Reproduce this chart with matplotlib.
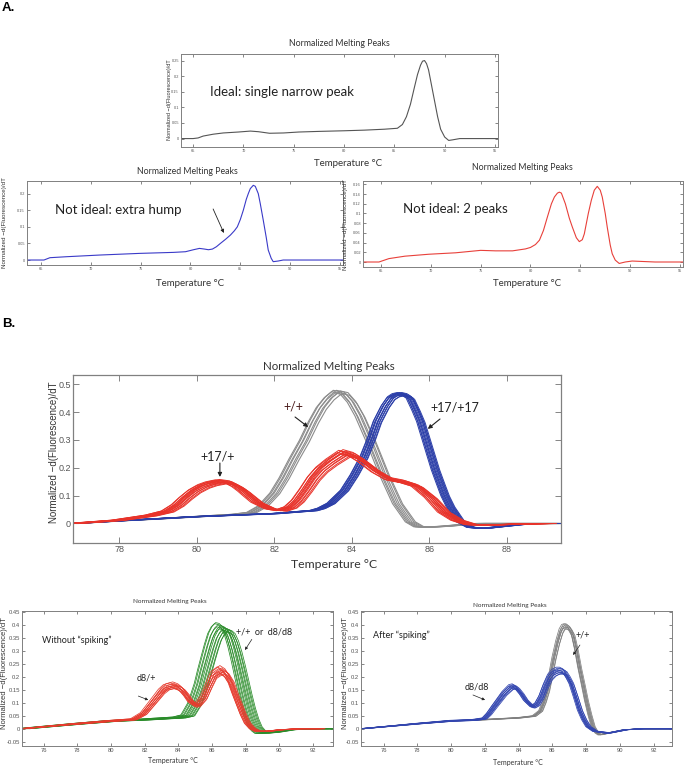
import matplotlib
matplotlib.use('Agg')
import matplotlib.pyplot as plt
import numpy as np

# ---- panel A data (single curves) ----
a1_temp = [63.8, 65.0, 65.5, 66.0, 67.0, 68.0, 69.5, 70.7, 71.5, 72.6, 74.0, 75.5, 77.5, 80.0, 82.0, 84.0,
           85.3, 85.8, 86.2, 86.6, 87.0, 87.3, 87.6, 87.8, 88.0, 88.2, 88.4, 88.7, 89.0, 89.3, 89.6, 90.0,
           90.4, 90.8, 91.5, 93.0, 95.3]
a1_val = [0.0, 0.0, 0.002, 0.008, 0.014, 0.018, 0.021, 0.024, 0.022, 0.017, 0.018, 0.021, 0.023, 0.025, 0.027, 0.03,
          0.033, 0.045, 0.07, 0.11, 0.165, 0.205, 0.235, 0.248, 0.25, 0.24, 0.22, 0.17, 0.12, 0.07, 0.03, 0.005,
          -0.006, -0.004, 0.0, 0.0, 0.0]

a2_temp = [63.6, 65.3, 65.9, 67.6, 70.9, 74.9, 78.3, 79.5, 80.3, 80.9, 81.4, 81.8, 82.2, 82.6, 83.0, 83.5, 84.0,
           84.4, 84.7, 85.0, 85.3, 85.6, 85.8, 86.0, 86.3, 86.5, 86.8, 87.0, 87.3, 87.6, 87.8, 88.1, 88.3, 88.8,
           89.3, 90.0, 92.0, 95.3]
a2_val = [0.0, 0.0, 0.007, 0.01, 0.015, 0.02, 0.023, 0.025, 0.031, 0.035, 0.033, 0.031, 0.033, 0.04, 0.05, 0.062,
          0.075, 0.088, 0.1, 0.122, 0.15, 0.183, 0.2, 0.215, 0.225, 0.222, 0.2, 0.17, 0.12, 0.068, 0.03, 0.005,
          -0.005, -0.003, 0.0, 0.0, 0.0, 0.0]

a3_temp = [63.2, 64.8, 65.8, 67.4, 69.8, 72.5, 75.0, 76.5, 78.2, 79.5, 80.0, 80.5, 80.9, 81.3, 81.7, 82.1, 82.4,
           82.7, 82.9, 83.1, 83.5, 83.9, 84.2, 84.6, 84.9, 85.2, 85.4, 85.8, 86.1, 86.4, 86.7, 87.0, 87.2, 87.5,
           87.7, 88.0, 88.2, 88.5, 88.9, 89.5, 90.2, 92.5, 95.3]
a3_val = [0.0, 0.0, 0.007, 0.012, 0.016, 0.019, 0.024, 0.023, 0.023, 0.027, 0.03, 0.036, 0.045, 0.065, 0.093, 0.12,
          0.134, 0.142, 0.144, 0.142, 0.12, 0.09, 0.072, 0.05, 0.042, 0.046, 0.058, 0.1, 0.127, 0.148, 0.156, 0.148,
          0.134, 0.1, 0.072, 0.035, 0.017, 0.004, -0.003, 0.0, 0.002, 0.0, 0.0]

# ---- panel B main (replicate groups: base curve + per-replicate peak shift / height factor) ----
b_gray_temp = [76.8, 78, 79, 80, 81, 81.4, 81.7, 82.0, 82.24, 82.5, 82.76, 83.0, 83.2, 83.4, 83.6, 83.8, 84.0,
               84.2, 84.48, 84.82, 85.17, 85.5, 85.72, 86.0, 86.4, 86.88, 87.3, 89.4]
b_gray_val = [0.0, 0.01, 0.017, 0.025, 0.033, 0.04, 0.064, 0.11, 0.165, 0.235, 0.3, 0.37, 0.42, 0.455, 0.478, 0.472,
              0.44, 0.39, 0.3, 0.18, 0.072, 0.006, -0.012, -0.013, -0.01, -0.004, 0.0, 0.0]
b_gray_shift = [-0.12, -0.08, -0.04, 0.0, 0.05, 0.1, 0.14]
b_gray_scale = [0.99, 1.0, 0.98, 1.0, 0.985, 0.995, 0.975]

b_blue_temp = [76.8, 78, 80, 82, 83.0, 83.2, 83.45, 83.8, 84.05, 84.3, 84.5, 84.65, 84.85, 85.0, 85.12, 85.25,
               85.38, 85.5, 85.65, 85.77, 85.9, 86.03, 86.15, 86.28, 86.4, 86.54, 86.8, 87.06, 87.4, 87.92, 88.6, 89.4]
b_blue_val = [0.0, 0.01, 0.025, 0.036, 0.047, 0.055, 0.073, 0.12, 0.175, 0.24, 0.31, 0.37, 0.425, 0.455, 0.466, 0.47,
              0.466, 0.455, 0.41, 0.37, 0.31, 0.25, 0.195, 0.145, 0.1, 0.06, 0.006, -0.014, -0.018, -0.01, 0.0, 0.0]
b_blue_shift = [-0.1, -0.08, -0.06, -0.04, -0.02, 0.0, 0.02, 0.04, 0.06, 0.08, 0.1, 0.12]
b_blue_scale = [0.99, 1.0, 0.985, 0.995, 1.0, 0.98, 0.99, 1.0, 0.985, 0.99, 0.975, 0.98]

b_red_temp = [76.8, 77.94, 78.8, 79.23, 79.49, 79.7, 79.92, 80.15, 80.35, 80.6, 80.86, 81.05, 81.2, 81.38, 81.55,
              81.9, 82.15, 82.4, 82.59, 82.8, 83.0, 83.2, 83.45, 83.79, 84.05, 84.3, 84.65, 85.0, 85.34, 85.68,
              86.03, 86.37, 86.71, 87.06, 87.57, 88.26, 89.1]
b_red_val = [0.0, 0.012, 0.03, 0.045, 0.068, 0.095, 0.12, 0.138, 0.148, 0.155, 0.15, 0.136, 0.12, 0.098, 0.078,
             0.054, 0.048, 0.06, 0.084, 0.125, 0.168, 0.2, 0.228, 0.26, 0.25, 0.228, 0.19, 0.162, 0.153, 0.138,
             0.096, 0.042, 0.012, -0.004, -0.006, -0.002, 0.0]
b_red_shift = [-0.16, -0.13, -0.1, -0.07, -0.04, -0.02, 0.0, 0.02, 0.04, 0.06, 0.09, 0.12, 0.15, 0.18]
b_red_scale = [0.98, 1.01, 0.96, 1.0, 0.97, 1.02, 0.99, 0.95, 1.0, 0.97, 0.94, 0.96, 0.93, 0.92]

# ---- panel B lower left: without spiking ----
ll_red_temp = [74.7, 76, 78, 80, 81.33, 81.93, 82.3, 82.7, 83.0, 83.3, 83.7, 84.0, 84.2, 84.45, 84.7, 85.1, 85.5,
               85.8, 86.1, 86.5, 86.8, 87.1, 87.35, 87.6, 87.85, 88.1, 88.4, 88.7, 89.3, 90.1, 91.2, 92.5]
ll_red_val = [0.0, 0.008, 0.02, 0.031, 0.037, 0.06, 0.09, 0.123, 0.148, 0.165, 0.172, 0.165, 0.155, 0.135, 0.11,
              0.091, 0.123, 0.17, 0.213, 0.232, 0.22, 0.187, 0.14, 0.097, 0.055, 0.021, 0.0, -0.01, -0.01, -0.004,
              0.0, 0.0]
ll_red_shift = [-0.18, -0.14, -0.1, -0.06, -0.03, 0.0, 0.03, 0.06, 0.1, 0.14, 0.18, 0.22]
ll_red_scale = [1.03, 0.95, 1.0, 0.92, 1.05, 0.97, 0.9, 1.01, 0.94, 0.98, 0.91, 0.96]

ll_green_temp = [74.7, 76, 78, 80, 82, 84.0, 84.5, 84.9, 85.1, 85.3, 85.5, 85.7, 85.9, 86.1, 86.3, 86.5, 86.7,
                 86.9, 87.1, 87.3, 87.5, 87.7, 87.9, 88.1, 88.3, 88.5, 88.7, 88.9, 89.5, 90.5, 92.0, 93.2]
ll_green_val = [0.0, 0.008, 0.02, 0.031, 0.037, 0.045, 0.053, 0.098, 0.135, 0.175, 0.228, 0.277, 0.325, 0.367,
                0.392, 0.405, 0.402, 0.39, 0.36, 0.315, 0.26, 0.2, 0.14, 0.085, 0.04, 0.008, -0.008, -0.018,
                -0.015, -0.004, 0.0, 0.0]
ll_green_shift = [-0.35, -0.28, -0.21, -0.14, -0.07, 0.0, 0.07, 0.14, 0.21, 0.28, 0.35, 0.42, 0.48]
ll_green_scale = [1.0, 1.01, 0.97, 0.99, 0.95, 0.98, 0.97, 0.94, 0.96, 0.93, 0.95, 0.92, 0.94]

# ---- panel B lower right: after spiking ----
lr_gray_temp = [74.66, 76, 78, 80, 82, 84, 84.9, 85.29, 85.5, 85.7, 85.9, 86.08, 86.3, 86.5, 86.65, 86.8, 87.0,
                87.2, 87.4, 87.6, 87.8, 88.0, 88.2, 88.4, 88.6, 88.8, 89.3, 90.3, 91.3, 93.1]
lr_gray_val = [0.0, 0.008, 0.02, 0.031, 0.036, 0.043, 0.05, 0.07, 0.105, 0.149, 0.215, 0.277, 0.34, 0.385, 0.402,
               0.405, 0.395, 0.37, 0.31, 0.238, 0.175, 0.11, 0.055, 0.008, -0.015, -0.024, -0.017, -0.004, 0.0, 0.0]
lr_gray_shift = [-0.1, -0.06, -0.03, 0.0, 0.03, 0.06, 0.1, 0.14]
lr_gray_scale = [1.0, 0.98, 0.96, 1.0, 0.97, 0.99, 0.95, 0.97]

lr_blue_temp = [74.66, 76, 78, 80, 81.3, 81.93, 82.2, 82.5, 83.1, 83.5, 83.7, 83.9, 84.15, 84.4, 84.8, 85.05,
                85.3, 85.55, 85.8, 86.05, 86.3, 86.5, 86.7, 86.9, 87.1, 87.35, 87.6, 87.85, 88.1, 88.5, 89.3,
                90.3, 91.3, 93.1]
lr_blue_val = [0.0, 0.008, 0.02, 0.031, 0.034, 0.04, 0.058, 0.085, 0.137, 0.162, 0.165, 0.155, 0.135, 0.11, 0.085,
               0.095, 0.123, 0.165, 0.2, 0.218, 0.226, 0.226, 0.22, 0.2, 0.175, 0.125, 0.072, 0.035, 0.008, -0.01,
               -0.017, -0.004, 0.0, 0.0]
lr_blue_shift = [-0.12, -0.08, -0.05, -0.02, 0.0, 0.03, 0.06, 0.09, 0.12, 0.16, 0.2]
lr_blue_scale = [1.0, 1.05, 0.97, 1.03, 0.99, 0.95, 1.02, 0.96, 0.93, 1.0, 0.94]

TITLE = 'Normalized Melting Peaks'
XLAB = 'Temperature °C'
YLAB = 'Normalized −d(Fluorescence)/dT'
TXT = ['Lato', 'DejaVu Sans']
NARROW = ['Liberation Sans Narrow', 'Liberation Sans', 'DejaVu Sans']

W, H = 685, 766
fig = plt.figure(figsize=(W / 100, H / 100), dpi=100)


def box(l, t, r, b):
    return fig.add_axes([l / W, 1 - b / H, (r - l) / W, (b - t) / H])


def ftext(x, y, s, **kw):
    fig.text(x / W, 1 - y / H, s, **kw)


def style(ax, xlim, ylim, xticks, yticks, fs, tl, lw=0.7):
    ax.set_xlim(*xlim)
    ax.set_ylim(*ylim)
    ax.set_xticks(xticks)
    ax.set_yticks(yticks)
    ax.set_xticklabels(['{:g}'.format(v) for v in xticks])
    ax.set_yticklabels(['{:g}'.format(v) for v in yticks])
    ax.tick_params(direction='in', top=True, right=True, length=tl, width=0.5,
                   labelsize=fs, colors='#555555', pad=1.5)
    for lab in ax.get_xticklabels() + ax.get_yticklabels():
        lab.set_family(NARROW)
    for s in ax.spines.values():
        s.set_color('#808080')
        s.set_linewidth(lw)


def group(ax, temp, val, shifts, scales, color, lw):
    t = np.array(temp)
    v = np.array(val)
    for s, k in zip(shifts, scales):
        ax.plot(t + s, v * k, color=color, lw=lw)


def arrow(ax, start, end, lw=0.6, ms=5):
    ax.annotate('', xy=end, xytext=start, xycoords='axes fraction', textcoords='axes fraction',
                arrowprops=dict(arrowstyle='-|>', color='#222222', lw=lw, mutation_scale=ms,
                                shrinkA=0, shrinkB=0))


# panel labels
ftext(2, 8, 'A.', fontsize=9.5, fontweight='bold', family=['Liberation Sans', 'DejaVu Sans'], va='center')
ftext(2, 324, 'B.', fontsize=9.5, fontweight='bold', family=['Liberation Sans', 'DejaVu Sans'], va='center')

# ---------- A1 ----------
ax = box(181, 54, 498, 147)
ax.plot(a1_temp, a1_val, color='#555555', lw=0.8)
style(ax, (63.8, 95.3), (-0.027, 0.271), [65, 70, 75, 80, 85, 90, 95], [0, 0.05, 0.1, 0.15, 0.2, 0.25], 2.8, 2)
ax.text(0.091, 0.59, 'Ideal: single narrow peak', transform=ax.transAxes, fontsize=9.5, family=TXT,
        va='center', color='#222222')
ftext(339, 43, TITLE, fontsize=6.3, family=TXT, ha='center', va='center', color='#333333')
ftext(348, 163, XLAB, fontsize=7, family=TXT, ha='center', va='center', color='#333333')
ftext(170, 100, YLAB, fontsize=4.0, family=NARROW, ha='center', va='center', rotation=90, color='#333333')

# ---------- A2 ----------
ax = box(27, 181, 343, 265)
ax.plot(a2_temp, a2_val, color='#3a3ac8', lw=0.8)
style(ax, (63.6, 95.3), (-0.015, 0.238), [65, 70, 75, 80, 85, 90, 95], [0, 0.05, 0.1, 0.15, 0.2], 2.8, 2)
ax.text(0.089, 0.655, 'Not ideal: extra hump', transform=ax.transAxes, fontsize=9.5, family=TXT,
        va='center', color='#222222')
arrow(ax, (0.589, 0.667), (0.623, 0.381), lw=0.6, ms=5)
ftext(187, 171, TITLE, fontsize=6.3, family=TXT, ha='center', va='center', color='#333333')
ftext(190, 283, XLAB, fontsize=7, family=TXT, ha='center', va='center', color='#333333')
ftext(5, 222, YLAB, fontsize=4.5, family=NARROW, ha='center', va='center', rotation=90, color='#333333')

# ---------- A3 ----------
ax = box(363, 181, 683, 267)
ax.plot(a3_temp, a3_val, color='#e8403a', lw=0.8)
style(ax, (63.2, 95.3), (-0.0103, 0.167), [65, 70, 75, 80, 85, 90, 95],
      [0, 0.02, 0.04, 0.06, 0.08, 0.1, 0.12, 0.14, 0.16], 2.8, 2)
ax.text(0.125, 0.674, 'Not ideal: 2 peaks', transform=ax.transAxes, fontsize=9.5, family=TXT,
        va='center', color='#222222')
ftext(522, 168, TITLE, fontsize=6.3, family=TXT, ha='center', va='center', color='#333333')
ftext(527, 283, XLAB, fontsize=7, family=TXT, ha='center', va='center', color='#333333')
ftext(346, 224, YLAB, fontsize=4.5, family=NARROW, ha='center', va='center', rotation=90, color='#333333')

# ---------- B main ----------
ax = box(73, 375, 561, 543)
group(ax, b_gray_temp, b_gray_val, b_gray_shift, b_gray_scale, '#8c8c8c', 0.8)
group(ax, b_blue_temp, b_blue_val, b_blue_shift, b_blue_scale, '#2b3ea8', 0.7)
group(ax, b_red_temp, b_red_val, b_red_shift, b_red_scale, '#e8332a', 0.7)
style(ax, (76.8, 89.4), (-0.07, 0.533), [78, 80, 82, 84, 86, 88], [0, 0.1, 0.2, 0.3, 0.4, 0.5], 6.5, 4, lw=0.9)
ax.text(0.297, 0.512, '+17/+', transform=ax.transAxes, fontsize=9, family=TXT, ha='center', va='center',
        color='#222222')
arrow(ax, (0.301, 0.476), (0.301, 0.393), lw=0.8, ms=6)
ax.text(0.451, 0.81, '+/+', transform=ax.transAxes, fontsize=9, family=TXT, ha='center', va='center',
        color='#4a1c1c')
arrow(ax, (0.455, 0.75), (0.482, 0.69), lw=0.8, ms=6)
ax.text(0.783, 0.804, '+17/+17', transform=ax.transAxes, fontsize=9, family=TXT, ha='center', va='center',
        color='#222222')
arrow(ax, (0.752, 0.738), (0.727, 0.679), lw=0.8, ms=6)
ftext(329, 366, TITLE, fontsize=8.3, family=TXT, ha='center', va='center', color='#333333')
ftext(334, 565, XLAB, fontsize=8.8, family=TXT, ha='center', va='center', color='#333333')
ftext(54, 452, YLAB, fontsize=7, family=NARROW, ha='center', va='center', rotation=90, color='#333333')

# ---------- B lower left ----------
ax = box(22, 611, 333, 746)
group(ax, ll_green_temp, ll_green_val, ll_green_shift, ll_green_scale, '#2a8c2a', 0.55)
group(ax, ll_red_temp, ll_red_val, ll_red_shift, ll_red_scale, '#e63b2e', 0.55)
style(ax, (74.72, 93.19), (-0.0665, 0.4538), [76, 78, 80, 82, 84, 86, 88, 90, 92],
      [-0.05, 0, 0.05, 0.1, 0.15, 0.2, 0.25, 0.3, 0.35, 0.4, 0.45], 4.2, 2.5)
ax.text(0.063, 0.785, 'Without \u201cspiking\u201d', transform=ax.transAxes, fontsize=6.5, family=TXT,
        va='center', color='#222222')
ax.text(0.401, 0.504, 'd8/+', transform=ax.transAxes, fontsize=6.5, family=TXT, ha='center', va='center',
        color='#222222')
arrow(ax, (0.374, 0.37), (0.406, 0.341), lw=0.5, ms=4)
ax.text(0.777, 0.847, '+/+  or  d8/d8', transform=ax.transAxes, fontsize=6.5, family=TXT, ha='center',
        va='center', color='#222222')
arrow(ax, (0.739, 0.79), (0.717, 0.711), lw=0.5, ms=4)
ftext(170, 602, TITLE, fontsize=4.6, family=TXT, ha='center', va='center', color='#333333')
ftext(173, 760, XLAB, fontsize=5, family=TXT, ha='center', va='center', color='#333333')
ftext(5, 673, YLAB, fontsize=5.5, family=NARROW, ha='center', va='center', rotation=90, color='#333333')

# ---------- B lower right ----------
ax = box(361, 611, 672, 746)
group(ax, lr_gray_temp, lr_gray_val, lr_gray_shift, lr_gray_scale, '#808080', 0.55)
group(ax, lr_blue_temp, lr_blue_val, lr_blue_shift, lr_blue_scale, '#3346b0', 0.55)
style(ax, (74.66, 93.09), (-0.0665, 0.4538), [76, 78, 80, 82, 84, 86, 88, 90, 92],
      [-0.05, 0, 0.05, 0.1, 0.15, 0.2, 0.25, 0.3, 0.35, 0.4, 0.45], 4.2, 2.5)
ax.text(0.039, 0.822, 'After \u201cspiking\u201d', transform=ax.transAxes, fontsize=6.5, family=TXT,
        va='center', color='#222222')
ax.text(0.714, 0.822, '+/+', transform=ax.transAxes, fontsize=6.5, family=TXT, ha='center', va='center',
        color='#222222')
arrow(ax, (0.704, 0.748), (0.682, 0.674), lw=0.5, ms=4)
ax.text(0.373, 0.439, 'd8/d8', transform=ax.transAxes, fontsize=6.5, family=TXT, ha='center', va='center',
        color='#222222')
arrow(ax, (0.36, 0.378), (0.399, 0.341), lw=0.5, ms=4)
ftext(510, 605, TITLE, fontsize=4.6, family=TXT, ha='center', va='center', color='#333333')
ftext(518, 762, XLAB, fontsize=5, family=TXT, ha='center', va='center', color='#333333')
ftext(345, 673, YLAB, fontsize=5.5, family=NARROW, ha='center', va='center', rotation=90, color='#333333')

fig.savefig('out.png', dpi=100)
